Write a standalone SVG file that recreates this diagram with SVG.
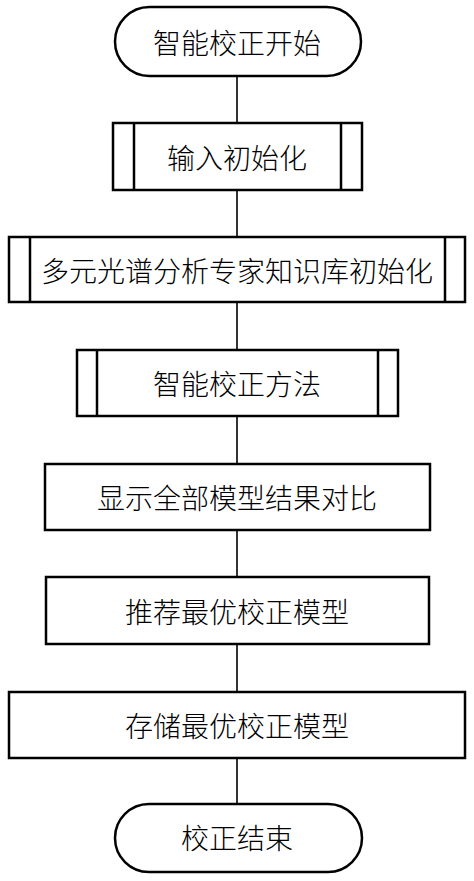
<svg xmlns="http://www.w3.org/2000/svg" width="474" height="881" viewBox="0 0 474 881">
<style>
.b{fill:#fff;stroke:#000;stroke-width:2.5}
.s{fill:none;stroke:#000;stroke-width:2.5}
.c{fill:none;stroke:#000;stroke-width:1.6}
text{font-family:"Noto Sans CJK SC","Noto Sans CJK JP",sans-serif;font-size:28px;font-weight:300;fill:#000;text-anchor:middle;dominant-baseline:central}
</style>
<rect width="474" height="881" fill="#fff"/>
<g id="connectors">
<line class="c" x1="237" y1="76" x2="237" y2="123"/>
<line class="c" x1="237" y1="190" x2="237" y2="237"/>
<line class="c" x1="237" y1="302" x2="237" y2="350"/>
<line class="c" x1="237" y1="416" x2="237" y2="464"/>
<line class="c" x1="237" y1="530" x2="237" y2="577"/>
<line class="c" x1="237" y1="644" x2="237" y2="692"/>
<line class="c" x1="237" y1="758" x2="237" y2="804"/>
</g>
<g id="start">
<rect class="b" x="115" y="7" width="246" height="69" rx="34.5"/>
<text x="237" y="42">智能校正开始</text>
</g>
<g id="input-init">
<rect class="b" x="113" y="123" width="249" height="67"/>
<line class="s" x1="134" y1="123" x2="134" y2="190"/>
<line class="s" x1="341" y1="123" x2="341" y2="190"/>
<text x="237" y="157">输入初始化</text>
</g>
<g id="kb-init">
<rect class="b" x="9" y="237" width="456" height="65"/>
<line class="s" x1="30" y1="237" x2="30" y2="302"/>
<line class="s" x1="445" y1="237" x2="445" y2="302"/>
<text x="237" y="270">多元光谱分析专家知识库初始化</text>
</g>
<g id="method">
<rect class="b" x="77" y="350" width="321" height="66"/>
<line class="s" x1="97" y1="350" x2="97" y2="416"/>
<line class="s" x1="378" y1="350" x2="378" y2="416"/>
<text x="237" y="383">智能校正方法</text>
</g>
<g id="compare">
<rect class="b" x="45" y="464" width="385" height="66"/>
<text x="237" y="497">显示全部模型结果对比</text>
</g>
<g id="recommend">
<rect class="b" x="46" y="577" width="383" height="67"/>
<text x="237" y="611">推荐最优校正模型</text>
</g>
<g id="store">
<rect class="b" x="9" y="692" width="456" height="66"/>
<text x="237" y="725">存储最优校正模型</text>
</g>
<g id="end">
<rect class="b" x="115" y="804" width="247" height="68" rx="34"/>
<text x="237" y="837">校正结束</text>
</g>
</svg>
